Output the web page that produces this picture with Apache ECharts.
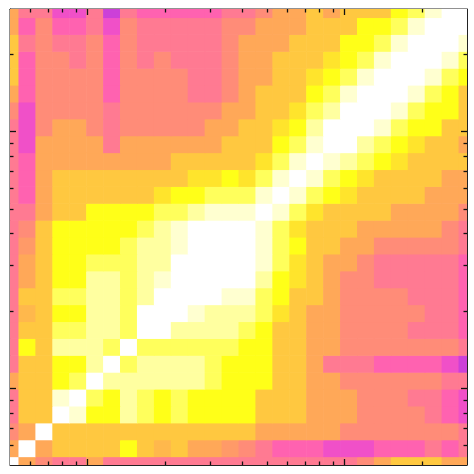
<!DOCTYPE html>
<html><head><meta charset="utf-8">
<script src="https://cdn.jsdelivr.net/npm/echarts@6/dist/echarts.min.js"></script>
<style>html,body{margin:0;padding:0;background:#fff}#c{width:474px;height:474px}</style>
</head><body><div id="c"></div>
<script>
// Upper-triangle rows: tri[j] holds levels (0..9) for columns i = j..27; matrix is symmetric
const tri = [
[9,5,4,3,3,5,3,3,3,3,3,3,3,3,3,3,3,3,3,3,3,4,5,6,6,6,5,5],
[9,5,6,6,6,6,7,6,5.5,6,5,5,4.5,4,3,2,2,2,1,1,1,2,2,2,3,2,3],
[9,6,6,6,6,6,6,6,6,6,6,6,6,5,5,5,5,5,4,4,4,4,4,4,4,3],
[9,8.5,7,7,8,7.5,7,7.5,7,7,7,7,6,6,6,5,5,5,4,4,4,4,3,2,1],
[9,7.5,7,8,7.5,7,7.5,7,7,7,7,6,6,6,5,5,5,4,4,4,3,3,2,1],
[9,8,8,8,8,8,8,7.5,7,7,7,6,6,5,5,4,4,4,4,4,4,3,3],
[9,7.5,8,8,8,8,7.5,7,7,7,6,6,5,3,3,3,2,2,2,2,1,0],
[9,7.5,7.5,7.5,7.5,7.5,7.5,7,7,6,6,5,5,4,4,4,4,4,4,4,3],
[9,9,8,8,8,8,7.5,7,6,6,5,5,4,4,4,4,3,3,3,2],
[9,9,8.5,8,8,8,7.5,6.5,6,5,5,4,4,4,4,4,3,3,2],
[9,9,9,8.5,8.5,7.5,7,6,6,5,4,4,4,4,3,3,3,2],
[9,9,9,9,8,7,6.5,6,5,4,4,3,3,3,3,3,2],
[9,9,9,8.5,7.5,6.5,6,5,5,4,3,3,3,3,3,2],
[9,9,8.5,7.5,7,6,6,5,5,4,4,4,4,4,3],
[9,8.5,7.5,6.5,6,6,6,5,5,5,5,5,4,3],
[9,8.5,7.5,6.5,6,6,6,6,5,5,5,5,4],
[9,8.5,7.5,7,6.5,6,6,6,6,5,5,5],
[9,8.5,7.5,7,6.5,6,6,6,6,5,5],
[9,8.5,8,7.5,7,6.5,6,6,6,6],
[9,9,8,7.5,7,6.5,6,6,5],
[9,9,8.5,7.5,7,7,6,6],
[9,9,8.5,7.5,7,7,6],
[9,9,8.5,7.5,7,6],
[9,9,8.5,7.5,7],
[9,9,8.5,7.5],
[9,9,8.5],
[9,9],
[9]
];
const N = 28;
const axisMin = 0.5, axisMax = 30;
const majorTicks = [1, 10];
const minorTicks = [0.6,0.7,0.8,0.9,2,3,4,5,6,7,8,9,20];
const palette = ['#cc40d8','#f050c8','#ff62b0','#ff7a92','#ff8c78','#ffa858','#ffc840','#ffff18','#ffffa0','#ffffff'];

const L = Math.log10;
const ratio = Math.pow(axisMax/axisMin, 1/(N-1));
const centers = [];
for (let k=0;k<N;k++) centers.push(axisMin*Math.pow(ratio,k));
const data = [];
for (let j=0;j<N;j++) for (let i=0;i<N;i++) {
  const v = i>=j ? tri[j][i-j] : tri[i][j-i];
  data.push([i,j,v]);
}
const tickData = majorTicks.map(t=>[L(t),L(t),6]).concat(minorTicks.map(t=>[L(t),L(t),3.5]));
const half = Math.sqrt(ratio);
function ax(pos){
  return {type:'value', min:L(axisMin), max:L(axisMax), gridIndex:0, position:pos,
    axisLine:{show:true,onZero:false,lineStyle:{color:'#222',width:1}},
    axisLabel:{show:false}, splitLine:{show:false}, axisTick:{show:false}};
}
const chart = echarts.init(document.getElementById('c'));
chart.setOption({
  animation:false,
  grid:{left:10,right:7,top:9,bottom:9,show:true,borderColor:'#222',borderWidth:1},
  xAxis:[ax('bottom'),ax('top')],
  yAxis:[ax('left'),ax('right')],
  visualMap:{show:false,type:'continuous',min:0,max:9,dimension:2,seriesIndex:0,inRange:{color:palette}},
  series:[{
    type:'custom', xAxisIndex:0, yAxisIndex:0, clip:true, data:data, z:1,
    encode:{x:0,y:1},
    renderItem:function(params, api){
      const ci = centers[api.value(0)], cj = centers[api.value(1)];
      const p0 = api.coord([L(ci/half), L(cj/half)]);
      const p1 = api.coord([L(ci*half), L(cj*half)]);
      const rect = echarts.graphic.clipRectByRect({
        x:Math.min(p0[0],p1[0]), y:Math.min(p0[1],p1[1]),
        width:Math.abs(p1[0]-p0[0])+0.6, height:Math.abs(p1[1]-p0[1])+0.6
      },{x:params.coordSys.x,y:params.coordSys.y,width:params.coordSys.width,height:params.coordSys.height});
      if(!rect) return;
      return {type:'rect', shape:rect, style:{fill:api.visual('color')}};
    }
  },{
    type:'custom', xAxisIndex:0, yAxisIndex:0, data:tickData, z:5, silent:true,
    encode:{x:0,y:1},
    renderItem:function(params, api){
      const cs = params.coordSys, len = api.value(2);
      const p = api.coord([api.value(0), api.value(1)]);
      const x = Math.round(p[0])+0.5, y = Math.round(p[1])+0.5;
      const st = {stroke:'#111', lineWidth:1.3};
      const b = cs.y+cs.height, t = cs.y, l = cs.x, r = cs.x+cs.width;
      return {type:'group', children:[
        {type:'line', shape:{x1:x,y1:b,x2:x,y2:b-len}, style:st},
        {type:'line', shape:{x1:x,y1:t,x2:x,y2:t+len}, style:st},
        {type:'line', shape:{x1:l,y1:y,x2:l+len,y2:y}, style:st},
        {type:'line', shape:{x1:r,y1:y,x2:r-len,y2:y}, style:st}
      ]};
    }
  }]
});
</script></body></html>
